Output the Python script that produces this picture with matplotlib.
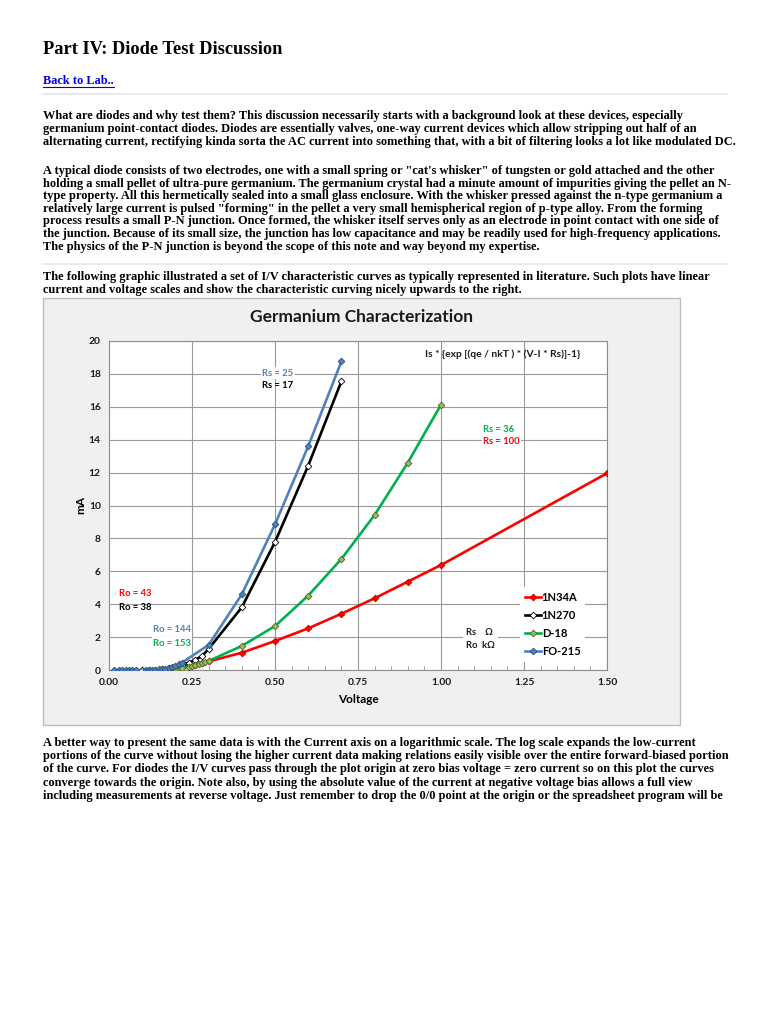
import numpy as np
import matplotlib
matplotlib.use("Agg")
import matplotlib.pyplot as plt
from matplotlib.patches import Rectangle
from matplotlib.lines import Line2D
from matplotlib.ticker import MultipleLocator, FormatStrFormatter

W, H = 768, 1024

# --- data (V in volts, I in mA) --------------------------------------------------------
v_1n34a = [0.20, 0.22, 0.24, 0.26, 0.28, 0.30, 0.40, 0.50, 0.60, 0.70, 0.80, 0.90, 1.00, 1.50]
i_1n34a = [0.12, 0.20, 0.27, 0.33, 0.40, 0.52, 1.05, 1.76, 2.53, 3.42, 4.36, 5.37, 6.38, 11.96]

v_1n270 = [0.10, 0.12, 0.14, 0.16, 0.18, 0.20, 0.22, 0.24, 0.26, 0.28, 0.30, 0.40, 0.50, 0.60, 0.70]
i_1n270 = [0.01, 0.02, 0.03, 0.05, 0.10, 0.20, 0.32, 0.45, 0.62, 0.85, 1.28, 3.81, 7.78, 12.42, 17.55]

v_d18 = [0.18, 0.20, 0.22, 0.24, 0.25, 0.26, 0.27, 0.28, 0.29, 0.30, 0.40, 0.50, 0.60, 0.70,
         0.80, 0.90, 1.00]
i_d18 = [0.05, 0.08, 0.13, 0.20, 0.26, 0.30, 0.35, 0.40, 0.47, 0.55, 1.46, 2.67, 4.52, 6.75,
         9.42, 12.60, 16.13]

v_fo215 = [0.015, 0.03, 0.04, 0.05, 0.06, 0.07, 0.08, 0.11, 0.12, 0.13, 0.14, 0.15, 0.16, 0.17,
           0.18, 0.19, 0.20, 0.21, 0.22, 0.30, 0.40, 0.50, 0.60, 0.70]
i_fo215 = [0, 0, 0, 0, 0, 0, 0, 0.01, 0.01, 0.02, 0.03, 0.04, 0.06, 0.09,
           0.13, 0.18, 0.25, 0.34, 0.45, 1.52, 4.60, 8.85, 13.60, 18.76]

series_names = ["1N34A", "1N270", "D-18", "FO-215"]

# --- page text --------------------------------------------------------------------------
title = "Part IV: Diode Test Discussion"
link = "Back to Lab.."
para1 = [
    "What are diodes and why test them? This discussion necessarily starts with a background look at these devices, especially",
    "germanium point-contact diodes. Diodes are essentially valves, one-way current devices which allow stripping out half of an",
    "alternating current, rectifying kinda sorta the AC current into something that, with a bit of filtering looks a lot like modulated DC.",
]
para2 = [
    "A typical diode consists of two electrodes, one with a small spring or \"cat's whisker\" of tungsten or gold attached and the other",
    "holding a small pellet of ultra-pure germanium. The germanium crystal had a minute amount of impurities giving the pellet an N-",
    "type property. All this hermetically sealed into a small glass enclosure. With the whisker pressed against the n-type germanium a",
    "relatively large current is pulsed \"forming\" in the pellet a very small hemispherical region of p-type alloy. From the forming",
    "process results a small P-N junction. Once formed, the whisker itself serves only as an electrode in point contact with one side of",
    "the junction. Because of its small size, the junction has low capacitance and may be readily used for high-frequency applications.",
    "The physics of the P-N junction is beyond the scope of this note and way beyond my expertise.",
]
para3 = [
    "The following graphic illustrated a set of I/V characteristic curves as typically represented in literature. Such plots have linear",
    "current and voltage scales and show the characteristic curving nicely upwards to the right.",
]
para4 = [
    "A better way to present the same data is with the Current axis on a logarithmic scale. The log scale expands the low-current",
    "portions of the curve without losing the higher current data making relations easily visible over the entire forward-biased portion",
    "of the curve. For diodes the I/V curves pass through the plot origin at zero bias voltage = zero current so on this plot the curves",
    "converge towards the origin. Note also, by using the absolute value of the current at negative voltage bias allows a full view",
    "including measurements at reverse voltage. Just remember to drop the 0/0 point at the origin or the spreadsheet program will be",
]

SERIF = "Liberation Serif"
CHART_FONT = "Lato"
BODY_SIZE = 8.9


def fx(x):
    return x / W


def fy(y):
    return 1 - y / H


fig = plt.figure(figsize=(W / 100, H / 100), dpi=100)

fig.text(fx(43), fy(49), title, family=SERIF, weight="bold", fontsize=13.2, va="center")
t_link = fig.text(fx(43), fy(81), link, family=SERIF, weight="bold", fontsize=BODY_SIZE,
                  color="#0000ee", va="center")
# underline under the link
r = fig.canvas.get_renderer()
bb = t_link.get_window_extent(r)
fig.add_artist(Line2D([bb.x0 / W, bb.x1 / W], [fy(87)] * 2, color="#0000ee", lw=0.8))

# horizontal rules
for yy in (94, 264):
    fig.add_artist(Line2D([fx(43), fx(727)], [fy(yy)] * 2, color="#e6e6e6", lw=1.2))


def block(lines, y0, step=13.0):
    for k, s in enumerate(lines):
        fig.text(fx(43), fy(y0 + k * step), s, family=SERIF, weight="bold",
                 fontsize=BODY_SIZE, va="center")


block(para1, 116)
block(para2, 171, 12.6)
block(para3, 277)
block(para4, 743, 13.2)

# chart frame (gray Excel chart area)
fig.add_artist(Rectangle((fx(43), fy(725)), (680 - 43) / W, (725 - 298) / H,
                         facecolor="#f0f0f0", edgecolor="#bdbdbd", lw=1.0, zorder=0))

fig.text(fx(361), fy(317), "Germanium Characterization", family=CHART_FONT, weight="bold",
         fontsize=12.5, ha="center", va="center", color="#1a1a1a")

# plot area: x 0..1.5 -> px 109..607, y 0..20 -> px 670..341
ax = fig.add_axes([fx(109), fy(670), (607 - 109) / W, (670 - 341) / H])
ax.set_facecolor("white")
ax.set_xlim(0, 1.5)
ax.set_ylim(0, 20)
ax.xaxis.set_major_locator(MultipleLocator(0.25))
ax.xaxis.set_minor_locator(MultipleLocator(0.05))
ax.yaxis.set_major_locator(MultipleLocator(2))
ax.xaxis.set_major_formatter(FormatStrFormatter("%.2f"))
ax.grid(True, which="major", color="#9a9a9a", lw=0.8)
ax.set_axisbelow(True)
for sp in ax.spines.values():
    sp.set_color("#8c8c8c")
    sp.set_linewidth(0.8)
ax.tick_params(axis="both", which="major", length=0, labelsize=7.4, pad=6, colors="#1a1a1a")
ax.tick_params(axis="x", which="minor", direction="in", length=3, color="#8c8c8c")
for lab in ax.get_xticklabels() + ax.get_yticklabels():
    lab.set_family(CHART_FONT)
    lab.set_fontweight("bold")
ax.set_xlabel("Voltage", family=CHART_FONT, weight="bold", fontsize=8.5, labelpad=5)
ax.set_ylabel("mA", family=CHART_FONT, weight="bold", fontsize=8.5, labelpad=2)

styles = [
    (v_1n34a, i_1n34a, "#ff0000", "#ff0000", "#c00000"),
    (v_1n270, i_1n270, "#000000", "white", "#000000"),
    (v_d18, i_d18, "#00b050", "#9bbb59", "#4f6228"),
    (v_fo215, i_fo215, "#4f81bd", "#4f81bd", "#2c4d75"),
]
handles = []
for (v, i, lc, mfc, mec), name in zip(styles, series_names):
    h, = ax.plot(v, i, color=lc, lw=1.9, marker="D", ms=3.4, mfc=mfc, mec=mec, mew=0.6,
                 label=name, zorder=3)
    handles.append(h)

leg = ax.legend(handles=handles, loc="upper left",
                bbox_to_anchor=((520 - 109) / 498, (670 - 587) / 329),
                frameon=True, fancybox=False, edgecolor="none", facecolor="white",
                framealpha=1, prop={"family": CHART_FONT, "weight": "bold", "size": 8},
                handlelength=1.4, handletextpad=0.1, labelspacing=0.62, borderpad=0.45,
                borderaxespad=0)
leg.set_zorder(5)

bbox_w = dict(boxstyle="square,pad=0.15", fc="white", ec="none")
akw = dict(family=CHART_FONT, weight="bold", fontsize=6.8, ha="left", va="center", zorder=4)


def dpos(x, y):
    return (x - 109) / 332, (670 - y) / 16.45


ax.text(*dpos(503, 354), "Is * {exp [(qe / nkT ) * (V-I * Rs)]-1}", color="#1a1a1a",
        **{**akw, "ha": "center", "fontsize": 7.4})
ax.text(*dpos(262, 373), "Rs = 25", color="#4f81bd", bbox=bbox_w, **akw)
ax.text(*dpos(262, 386), "Rs = 17", color="#000000", **akw)
ax.text(*dpos(483, 429), "Rs = 36", color="#00b050", **akw)
ax.text(*dpos(483, 442), "Rs = 100", color="#ff0000", bbox=bbox_w, **akw)
ax.text(*dpos(119, 594), "Ro = 43", color="#ff0000", **akw)
ax.text(*dpos(119, 607), "Ro = 38", color="#000000", **akw)
ax.text(*dpos(153, 630), "Ro = 144", color="#4f81bd", bbox=bbox_w, **akw)
ax.text(*dpos(153, 643), "Ro = 153", color="#00b050", bbox=bbox_w, **akw)
ax.text(*dpos(466, 639), "Rs    Ω\nRo  kΩ", color="#1a1a1a", linespacing=1.5,
        bbox=dict(boxstyle="square,pad=0.3", fc="white", ec="none"), **akw)

fig.savefig("out.png", dpi=100)
